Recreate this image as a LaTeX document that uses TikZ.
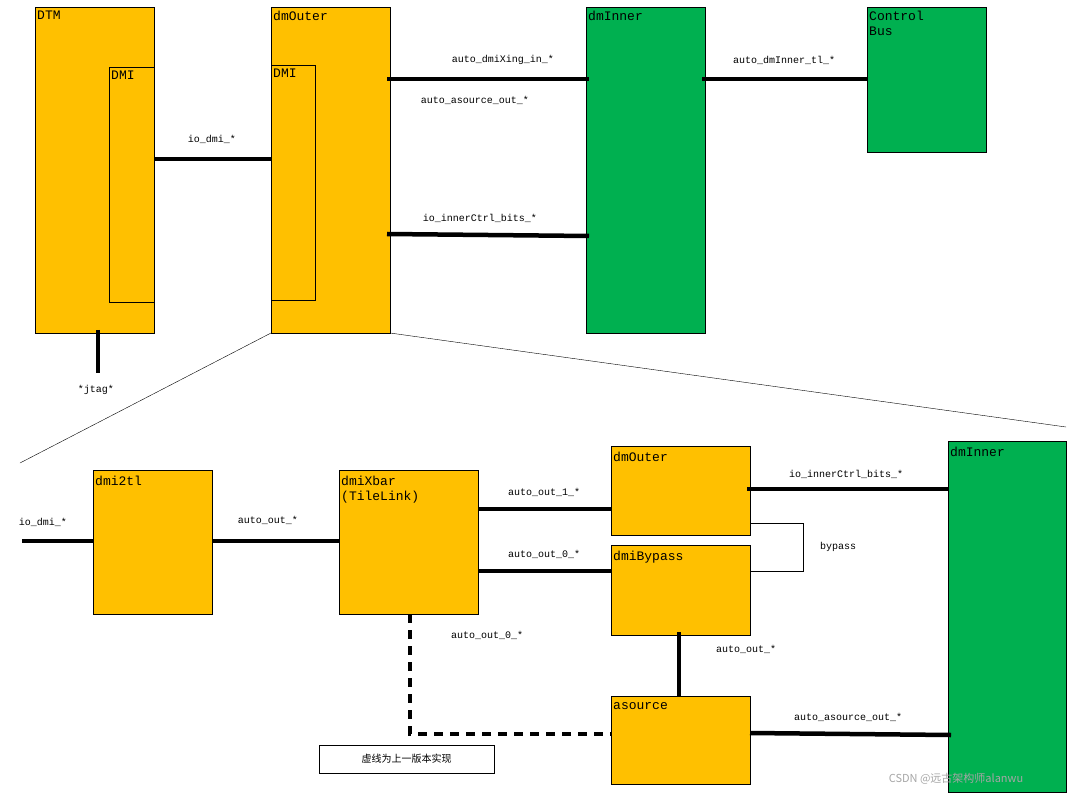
\documentclass[tikz,border=0pt]{standalone}
\usepackage{fontspec}
\setmainfont{Liberation Mono}
\newfontfamily\cjk{Noto Sans CJK SC}
\begin{document}
\begin{tikzpicture}[x=1pt,y=-1pt,
 yb/.style={draw=black,fill=yellow!60!orange!90!white,fill=orange!20!yellow},
 box/.style={draw=black,fill={rgb,255:red,255;green,192;blue,0}},
 gbox/.style={draw=black,fill={rgb,255:red,0;green,176;blue,80}},
 title/.style={anchor=north west,font=\fontsize{13}{15}\selectfont,inner sep=2pt,align=left},
 lab/.style={font=\fontsize{10}{12}\selectfont,inner sep=1pt},
 bus/.style={line width=4.5pt},
 dbus/.style={line width=4.5pt,dash pattern=on 9pt off 7pt}]
\useasboundingbox (0,0) rectangle (1089,799);
% top
\draw[box] (35,7) rectangle (154,333); \node[title] (dtm) at (35,9) {DTM};
\draw[box] (109,67) rectangle (154,302); \node[title] (dmi1) at (109,69) {DMI};
\draw[box] (271,7) rectangle (390,333); \node[title] (dmo) at (271,9) {dmOuter};
\draw[box] (271,65) rectangle (315,300); \node[title] (dmi2) at (271,67) {DMI};
\draw[gbox] (586,7) rectangle (705,333); \node[title] (dmin) at (586,9) {dmInner};
\draw[gbox] (867,7) rectangle (986,152); \node[title] (cb) at (867,9) {Control\\Bus};
\coordinate (a1) at (154,159); \coordinate (a2) at (271,159);
\draw[bus] (a1)--(a2); \node[lab] at (212,139) {io\_dmi\_*};
\coordinate (b1) at (387,79); \coordinate (b2) at (589,79);
\draw[bus] (b1)--(b2); \node[lab] at (503,60) {auto\_dmiXing\_in\_*};
\node[lab] at (475,100) {auto\_asource\_out\_*};
\coordinate (c1) at (387,234); \coordinate (c2) at (589,236);
\draw[bus] (c1)--(c2); \node[lab] at (480,218) {io\_innerCtrl\_bits\_*};
\coordinate (d1) at (702,79); \coordinate (d2) at (867,79);
\draw[bus] (d1)--(d2); \node[lab] at (784,60) {auto\_dmInner\_tl\_*};
\coordinate (j1) at (98,330); \coordinate (j2) at (98,373);
\draw[bus] (j1)--(j2); \node[lab] at (96,390) {*jtag*};
\coordinate (z1) at (271,333); \coordinate (z2) at (20,463);
\coordinate (z3) at (390,333); \coordinate (z4) at (1066,427);
\draw (z1)--(z2); \draw (z3)--(z4);
% bottom
\draw[box] (93,470) rectangle (212,614); \node[title] at (93,474) {dmi2tl};
\draw[box] (339,470) rectangle (478,614); \node[title] at (339,474) {dmiXbar\\(TileLink)};
\draw[box] (611,446) rectangle (750,535); \node[title] at (611,450) {dmOuter};
\draw[box] (611,545) rectangle (750,635); \node[title] at (611,549) {dmiBypass};
\draw[box] (611,696) rectangle (750,784); \node[title] at (611,700) {asource};
\draw[gbox] (948,441) rectangle (1066,792); \node[title] at (948,445) {dmInner};
\coordinate (e0) at (22,541); \coordinate (e1) at (93,541);
\draw[bus] (e0)--(e1); \node[lab] at (43,522) {io\_dmi\_*};
\coordinate (f1) at (212,541); \coordinate (f2) at (339,541);
\draw[bus] (f1)--(f2); \node[lab] at (268,520) {auto\_out\_*};
\coordinate (g1) at (478,509); \coordinate (g2) at (611,509);
\draw[bus] (g1)--(g2); \node[lab] at (544,492) {auto\_out\_1\_*};
\coordinate (h1) at (478,571); \coordinate (h2) at (611,571);
\draw[bus] (h1)--(h2); \node[lab] at (544,554) {auto\_out\_0\_*};
\coordinate (i1) at (747,489); \coordinate (i2) at (948,489);
\draw[bus] (i1)--(i2); \node[lab] at (846,474) {io\_innerCtrl\_bits\_*};
\draw (750,523)--(803,523)--(803,571)--(750,571); \node[lab] at (838,547) {bypass};
\coordinate (k1) at (679,632); \coordinate (k2) at (679,696);
\draw[bus] (k1)--(k2); \node[lab] at (746,649) {auto\_out\_*};
\coordinate (l1) at (750,733); \coordinate (l2) at (951,735);
\draw[bus] (l1)--(l2); \node[lab] at (848,717) {auto\_asource\_out\_*};
\coordinate (m1) at (410,614); \coordinate (m2) at (611,734);
\draw[dbus] (m1)--(410,734)--(m2); \node[lab] at (487,635) {auto\_out\_0\_*};
\node[draw,fill=white,minimum width=175pt,minimum height=28pt,font=\cjk\fontsize{10}{12}\selectfont] (note) at (406.5,759) {虚线为上一版本实现};
\node[font=\cjk\fontsize{11}{13}\selectfont,text=gray!70] (wm) at (956,779) {CSDN @远古架构师alanwu};
\end{tikzpicture}
\end{document}
